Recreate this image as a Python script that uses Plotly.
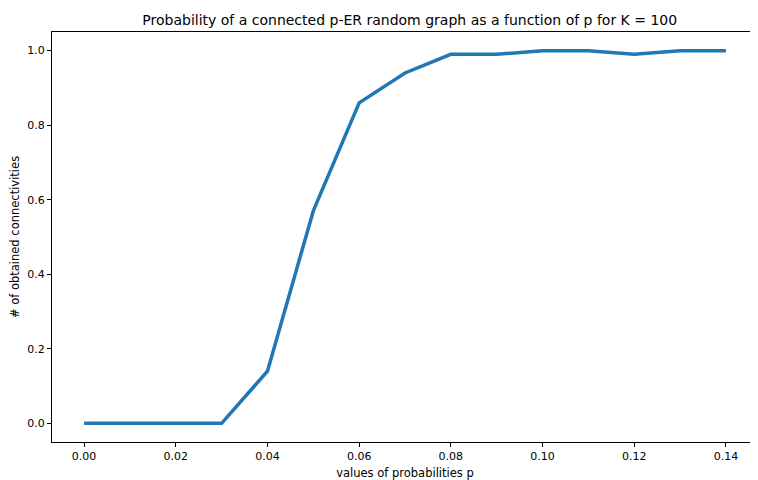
import plotly.graph_objects as go

p_values = [0.0, 0.01, 0.02, 0.03, 0.04, 0.05, 0.06, 0.07, 0.08, 0.09, 0.10, 0.11, 0.12, 0.13, 0.14]
connectivity = [0.0, 0.0, 0.0, 0.0, 0.14, 0.57, 0.86, 0.94, 0.99, 0.99, 1.0, 1.0, 0.99, 1.0, 1.0]

fig = go.Figure()
fig.add_trace(go.Scatter(
    x=p_values,
    y=connectivity,
    mode="lines",
    line=dict(color="#1f77b4", width=3.5),
))

axis_style = dict(
    showline=True, linecolor="black", linewidth=1, mirror=True,
    ticks="outside", ticklen=4, tickcolor="black",
    showgrid=False, zeroline=False,
    tickfont=dict(size=11, color="black"),
)

fig.update_layout(
    width=758, height=480,
    margin=dict(l=44, r=8, t=24, b=46, autoexpand=False),
    paper_bgcolor="white", plot_bgcolor="white",
    font=dict(family="DejaVu Sans", color="black"),
    title=dict(text="Probability of a connected p-ER random graph as a function of p for K = 100",
               x=0.53, xanchor="center", y=0.985, font=dict(size=14)),
    showlegend=False,
    xaxis=dict(axis_style, range=[-0.007, 0.147], tickvals=[0, 0.02, 0.04, 0.06, 0.08, 0.10, 0.12, 0.14],
               tickformat=".2f",
               title=dict(text="values of probabilities p", font=dict(size=11.5), standoff=6)),
    yaxis=dict(axis_style, range=[-0.05, 1.05], tickvals=[0, 0.2, 0.4, 0.6, 0.8, 1.0],
               tickformat=".1f",
               title=dict(text="# of obtained connectivities", font=dict(size=11.5), standoff=6)),
)

fig.write_html("out.html")
